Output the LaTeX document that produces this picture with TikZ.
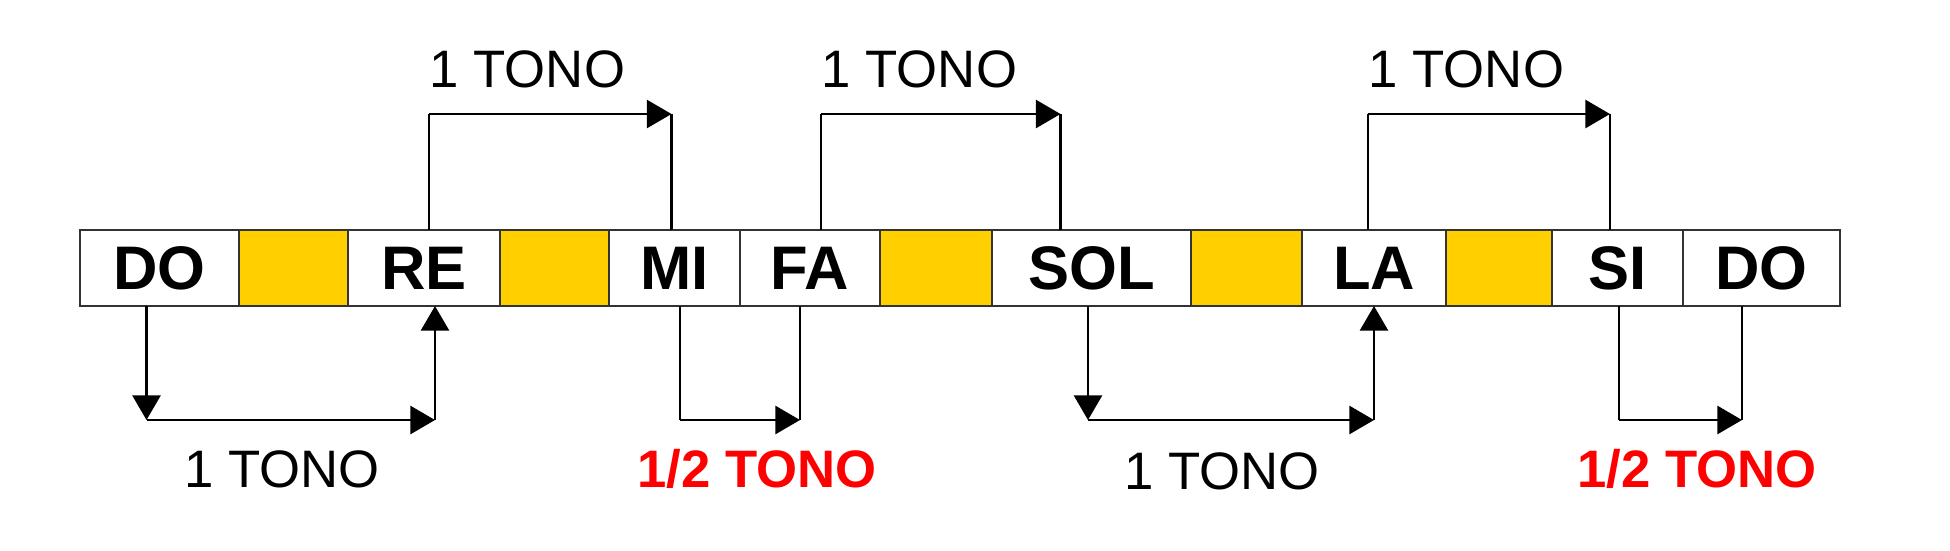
\documentclass[tikz,border=0pt]{standalone}
\usepackage{fontspec}
\setmainfont{Liberation Sans}
\usetikzlibrary{arrows.meta}
\definecolor{notegold}{RGB}{255,207,0}

\begin{document}
\begin{tikzpicture}[
  note/.style={rectangle, draw=black!80, line width=0.7pt, minimum height=0.76cm,
               inner sep=0pt, outer sep=0pt, font=\fontsize{17.5}{20}\selectfont\bfseries},
  gap/.style={note, fill=notegold},
  lbl/.style={inner sep=0pt, font=\fontsize{15}{18}\selectfont},
  half/.style={inner sep=0pt, text=red, font=\fontsize{15}{18}\selectfont\bfseries},
  link/.style={line width=0.6pt},
  arr/.style={link, -{Triangle[length=7pt,width=8pt]}}
]
  \fill[white] (0,0) rectangle (19.5,5.5);
  \useasboundingbox (0,0) rectangle (19.5,5.5);
  % cells of the strip
  \foreach \name/\l/\r/\txt/\sty in {do/0.80/2.39/DO/note, s1/2.39/3.48//gap,
      re/3.48/5.00/RE/note, s2/5.00/6.09//gap, mi/6.09/7.40/MI/note,
      fa/7.40/8.80/FA/note, s3/8.80/9.92//gap, sol/9.92/11.91/SOL/note,
      s4/11.91/13.02//gap, la/13.02/14.46/LA/note, s5/14.46/15.52//gap,
      si/15.52/16.83/SI/note, do2/16.83/18.40/DO/note}
    \node[\sty, minimum width={(\r-\l)*1cm}] (\name) at ({(\l+\r)/2},2.82) {\txt};

  % whole tones above
  \coordinate (reN) at ([xshift=0.5mm]re.north);
  \coordinate (miN) at ([xshift=-0.3mm]mi.north);
  \draw[link] (reN) -- ++(0,1.16) coordinate (reT);
  \draw[arr] (reT) -- (reT -| miN);
  \draw[link] (miN) -- (reT -| miN);
  \node[lbl, anchor=base west] (t1) at ([yshift=2.7mm]reT) {1 TONO};

  \coordinate (faN) at ([xshift=1.1mm]fa.north);
  \coordinate (solN) at ([xshift=-3.1mm]sol.north);
  \draw[link] (faN) -- ++(0,1.16) coordinate (faT);
  \draw[arr] (faT) -- (faT -| solN);
  \draw[link] (solN) -- (faT -| solN);
  \node[lbl, anchor=base west] (t2) at ([yshift=2.7mm]faT) {1 TONO};

  \coordinate (laN) at ([xshift=-0.6mm]la.north);
  \coordinate (siN) at ([xshift=-0.75mm]si.north);
  \draw[link] (laN) -- ++(0,1.16) coordinate (laT);
  \draw[arr] (laT) -- (laT -| siN);
  \draw[link] (siN) -- (laT -| siN);
  \node[lbl, anchor=base west] (t3) at ([yshift=2.7mm]laT) {1 TONO};

  % whole tones below
  \coordinate (doS) at ([xshift=-1.3mm]do.south);
  \coordinate (reS) at ([xshift=1.1mm]re.south);
  \draw[arr] (doS) -- ++(0,-1.14) coordinate (doB);
  \draw[arr] (doB) -- (doB -| reS);
  \draw[arr] (doB -| reS) -- (reS);
  \node[lbl, anchor=base] (t4) at (2.82,0.63) {1 TONO};

  \coordinate (solS) at ([xshift=-0.35mm]sol.south);
  \coordinate (laS) at (la.south);
  \draw[arr] (solS) -- ++(0,-1.14) coordinate (solB);
  \draw[arr] (solB) -- (solB -| laS);
  \draw[arr] (solB -| laS) -- (laS);
  \node[lbl, anchor=base] (t5) at (12.22,0.61) {1 TONO};

  % half tones below
  \coordinate (miS) at ([xshift=0.55mm]mi.south);
  \coordinate (faS) at ([xshift=-1mm]fa.south);
  \draw[link] (miS) -- ++(0,-1.14) coordinate (miB);
  \draw[arr] (miB) -- (miB -| faS);
  \draw[link] (faS) -- (miB -| faS);
  \node[half, anchor=base] (h1) at (7.57,0.63) {1/2 TONO};

  \coordinate (siS) at ([xshift=0.15mm]si.south);
  \coordinate (doTwoS) at ([xshift=-1.95mm]do2.south);
  \draw[link] (siS) -- ++(0,-1.14) coordinate (siB);
  \draw[arr] (siB) -- (siB -| doTwoS);
  \draw[link] (doTwoS) -- (siB -| doTwoS);
  \node[half, anchor=base] (h2) at (16.97,0.63) {1/2 TONO};
\end{tikzpicture}
\end{document}
